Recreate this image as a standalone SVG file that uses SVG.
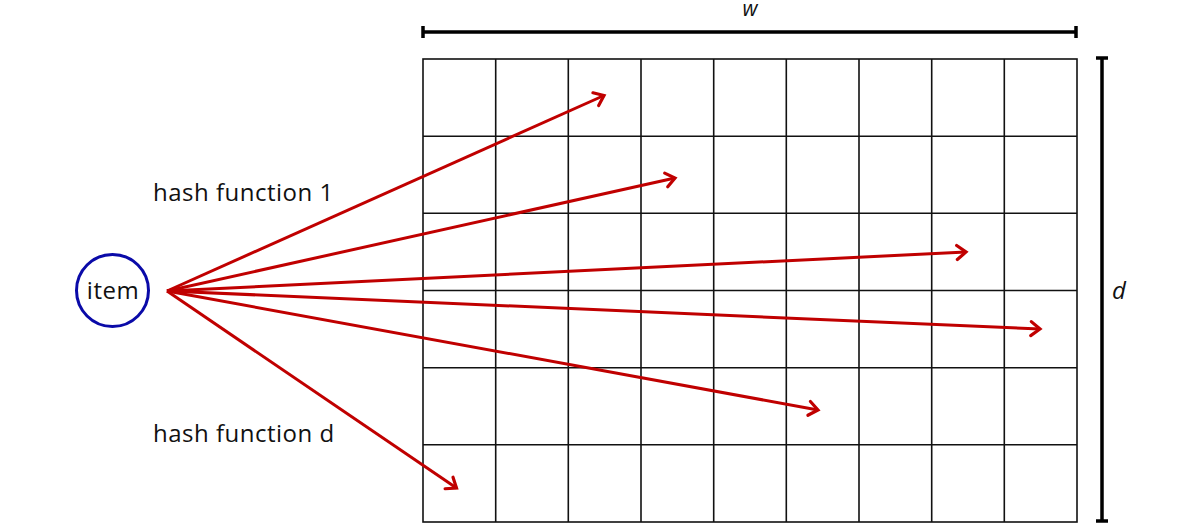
<svg xmlns="http://www.w3.org/2000/svg" width="1200" height="528" viewBox="0 0 1200 528">
<style>
.grid{fill:none;stroke:#111;stroke-width:1.6}
.dim{fill:none;stroke:#000;stroke-width:3.5}
.arr{fill:none;stroke:#c00000;stroke-width:3;marker-end:url(#ah)}
.lbl{font-family:"Open Sans","Noto Sans",sans-serif;font-size:24px;letter-spacing:0.5px;fill:#111}
.var{font-family:"Open Sans","Noto Sans",sans-serif;font-style:italic;fill:#111}
</style>
<defs>
<marker id="ah" markerUnits="userSpaceOnUse" markerWidth="30" markerHeight="30" refX="0" refY="0" viewBox="-15 -15 30 30" orient="auto">
<path d="M -9 -7 L 0 0 L -9 7" fill="none" stroke="#c00000" stroke-width="3.2" stroke-linecap="round" stroke-linejoin="miter"/>
</marker>
</defs>
<rect width="1200" height="528" fill="#fff"/>
<g id="grid">
<rect class="grid" x="423" y="59" width="654" height="463"/>
<path class="grid" d="M495.7 59V522M568.3 59V522M641 59V522M713.7 59V522M786.3 59V522M859 59V522M931.7 59V522M1004.3 59V522M423 136.2H1077M423 213.3H1077M423 290.5H1077M423 367.7H1077M423 444.8H1077"/>
</g>
<g id="width-dim">
<path class="dim" d="M423 32H1076M423 26V38M1076 26V38"/>
<text class="var" x="750" y="16" font-size="21" text-anchor="middle">w</text>
</g>
<g id="depth-dim">
<path class="dim" d="M1102 58V521M1096 58H1108M1096 521H1108"/>
<text class="var" x="1119" y="299" font-size="24" text-anchor="middle">d</text>
</g>
<g id="item">
<circle cx="112.5" cy="290.5" r="36" fill="none" stroke="#0a0aa8" stroke-width="3"/>
<text class="lbl" x="113" y="299" text-anchor="middle">item</text>
</g>
<g id="connectors">
<line class="arr" x1="167" y1="291" x2="604" y2="95.5"/>
<line class="arr" x1="167" y1="291" x2="675" y2="178"/>
<line class="arr" x1="167" y1="291" x2="966" y2="252"/>
<line class="arr" x1="167" y1="291" x2="1040" y2="329"/>
<line class="arr" x1="167" y1="291" x2="818" y2="410"/>
<line class="arr" x1="167" y1="291" x2="456.5" y2="488"/>
</g>
<g id="labels">
<text class="lbl" x="153" y="201">hash function 1</text>
<text class="lbl" x="153" y="442">hash function d</text>
</g>
</svg>
